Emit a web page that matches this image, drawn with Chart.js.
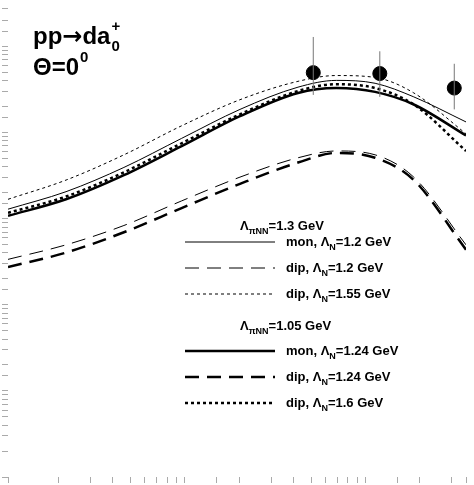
<!DOCTYPE html>
<html>
<head>
<meta charset="utf-8">
<script src="https://cdn.jsdelivr.net/npm/chart.js@4"></script>
<style>
  html, body { margin: 0; padding: 0; background: #fff; }
  #wrap { width: 474px; height: 485px; }
</style>
</head>
<body>
<div id="wrap"><canvas id="c"></canvas></div>
<script>
// energies (x, log scale) and cross sections (y, log scale)
var xs = [1.05, 2.2, 4.6, 9.6, 20.2, 42.3, 69, 113, 185, 360];
var monA = [0.0129, 0.0206, 0.0394, 0.0857, 0.186, 0.337, 0.404, 0.374, 0.26, 0.133];
var dipA = [0.00337, 0.00497, 0.00834, 0.0161, 0.0304, 0.051, 0.0612, 0.0552, 0.0304, 0.00497];
var dip155 = [0.0168, 0.0281, 0.0552, 0.12, 0.241, 0.394, 0.46, 0.437, 0.289, 0.097];
var monB = [0.0108, 0.0168, 0.032, 0.0696, 0.155, 0.289, 0.329, 0.297, 0.212, 0.0925];
var dipB = [0.00274, 0.00404, 0.00696, 0.0133, 0.0254, 0.0449, 0.0581, 0.051, 0.0281, 0.00437];
var dip16 = [0.0117, 0.0181, 0.0346, 0.0752, 0.163, 0.304, 0.365, 0.329, 0.212, 0.0612];

var dataX = [51.4, 120, 310];
var dataY = [0.497, 0.485, 0.329];
var errHi = [1.29, 0.88, 0.63];
var errLo = [0.274, 0.26, 0.186];

var legendLabels = ['mon, Λ_N=1.2 GeV', 'dip, Λ_N=1.2 GeV', 'dip, Λ_N=1.55 GeV',
                    'mon, Λ_N=1.24 GeV', 'dip, Λ_N=1.24 GeV', 'dip, Λ_N=1.6 GeV'];

function pts(ys) { return xs.map(function (x, i) { return { x: x, y: ys[i] }; }); }

var styles = [
    { w: 1, dash: [] }, { w: 1, dash: [14, 8] }, { w: 1, dash: [3, 3] },
    { w: 2.5, dash: [] }, { w: 2.5, dash: [14, 8] }, { w: 2.5, dash: [3, 3] }
];
var series = [monA, dipA, dip155, monB, dipB, dip16];

var datasets = series.map(function (s, i) {
    return {
        label: legendLabels[i], data: pts(s), borderColor: '#000',
        borderWidth: styles[i].w, borderDash: styles[i].dash,
        pointRadius: 0, cubicInterpolationMode: 'monotone', fill: false
    };
});
datasets.push({
    label: 'data', type: 'scatter',
    data: dataX.map(function (x, i) { return { x: x, y: dataY[i] }; }),
    backgroundColor: '#000', borderColor: '#000', pointRadius: 7
});

var overlay = {
    id: 'overlay',
    afterDatasetsDraw: function (chart) {
        var ctx = chart.ctx, sx = chart.scales.x, sy = chart.scales.y;
        ctx.save();
        ctx.strokeStyle = '#777';
        ctx.lineWidth = 1;
        dataX.forEach(function (x, i) {
            var px = sx.getPixelForValue(x);
            ctx.beginPath();
            ctx.moveTo(px, sy.getPixelForValue(errHi[i]));
            ctx.lineTo(px, sy.getPixelForValue(errLo[i]));
            ctx.stroke();
        });

        ctx.fillStyle = '#000';
        var big = 'bold 24px "Liberation Sans", Arial, sans-serif';
        var small = 'bold 15px "Liberation Sans", Arial, sans-serif';
        ctx.font = big;
        ctx.fillText('pp', 33, 44);
        var x0 = 33 + ctx.measureText('pp').width;
        ctx.font = 'bold 24px "DejaVu Sans", sans-serif';
        ctx.fillText('→', x0, 44);
        x0 += ctx.measureText('→').width;
        ctx.font = big;
        ctx.fillText('da', x0, 44);
        x0 += ctx.measureText('da').width;
        ctx.font = small;
        ctx.fillText('+', x0 + 1, 31);
        ctx.fillText('0', x0 + 1, 51);
        ctx.font = big;
        ctx.fillText('Θ=0', 33, 75);
        var w2 = ctx.measureText('Θ=0').width;
        ctx.font = small;
        ctx.fillText('0', 33 + w2 + 1, 62);

        function sub(text, x, y) {
            // text with "_" subscript segment (Λ_πNN, Λ_N)
            var parts = text.split('_');
            ctx.font = 'bold 13px "Liberation Sans", Arial, sans-serif';
            ctx.fillText(parts[0], x, y);
            x += ctx.measureText(parts[0]).width;
            var m = parts[1].match(/^(πNN|N)(.*)$/);
            ctx.font = 'bold 9px "Liberation Sans", Arial, sans-serif';
            ctx.fillText(m[1], x, y + 4);
            x += ctx.measureText(m[1]).width;
            ctx.font = 'bold 13px "Liberation Sans", Arial, sans-serif';
            ctx.fillText(m[2], x, y);
        }
        sub('Λ_πNN=1.3 GeV', 240, 230);
        sub('Λ_πNN=1.05 GeV', 240, 330);
        var rows = [246, 272, 298, 355, 381, 407];
        rows.forEach(function (ry, i) {
            ctx.beginPath();
            ctx.lineWidth = styles[i].w;
            ctx.setLineDash(styles[i].dash);
            ctx.strokeStyle = '#000';
            ctx.moveTo(185, ry - 4);
            ctx.lineTo(275, ry - 4);
            ctx.stroke();
            ctx.setLineDash([]);
            sub(legendLabels[i], 286, ry);
        });
        ctx.restore();
    }
};

new Chart(document.getElementById('c'), {
    type: 'line',
    data: { datasets: datasets },
    plugins: [overlay],
    options: {
        responsive: true, maintainAspectRatio: false, animation: false,
        layout: { padding: 0 },
        plugins: { legend: { display: false }, tooltip: { enabled: false } },
        scales: {
            x: {
                type: 'logarithmic', min: 1.05, max: 360,
                ticks: { display: false },
                border: { display: false },
                grid: { drawOnChartArea: false, tickLength: 6, color: '#aaa' }
            },
            y: {
                type: 'logarithmic', min: 0.00001, max: 2.8,
                ticks: { display: false },
                border: { display: false },
                grid: { drawOnChartArea: false, tickLength: 6, color: '#aaa' }
            }
        }
    }
});
</script>
</body>
</html>
